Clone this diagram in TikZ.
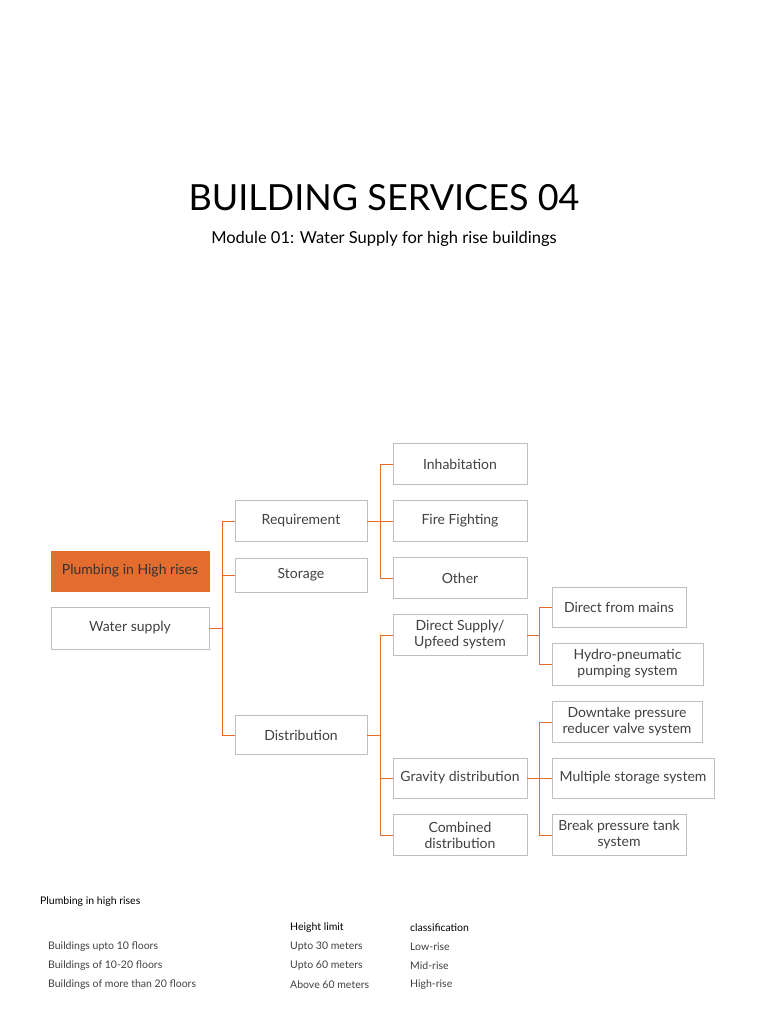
\documentclass[tikz,border=0pt]{standalone}
\usepackage{fontspec}
\setmainfont{Lato}
\usepackage{tikz}
\definecolor{burnt}{HTML}{E36C2F}
\definecolor{boxline}{HTML}{BFBFBF}
\definecolor{txt}{HTML}{404040}
\tikzstyle{block} = [rectangle, draw=boxline, thick, align=center, text=txt, font=\fontsize{14}{16}\selectfont, inner sep=0pt]
\tikzstyle{line} = [draw=burnt, thick]
\tikzstyle{tab} = [anchor=west, font=\fontsize{10.5}{12}\selectfont, inner sep=0pt]

\begin{document}
\begin{tikzpicture}[x=1pt, y=-1pt]
\useasboundingbox (0,0) rectangle (768,1024);

% titles
\node [font=\fontsize{36}{40}\selectfont] at (384, 198) (title) {BUILDING SERVICES 04};
\node [font=\fontsize{16.5}{18}\selectfont] at (384, 239) (subtitle) {Module 01: Water Supply for high rise buildings};

% level 0
\node [block, fill=burnt, draw=burnt, minimum width=158, minimum height=40, text=black!80] at (130, 571) (plumb) {Plumbing in High rises};
\node [block, minimum width=158, minimum height=42] at (130, 628) (water) {Water supply};

% level 1
\node [block, minimum width=132, minimum height=41] at (301, 521) (req) {Requirement};
\node [block, minimum width=132, minimum height=34] at (301, 575) (stor) {Storage};
\node [block, minimum width=132, minimum height=39] at (301, 735) (dist) {Distribution};

% level 2
\node [block, minimum width=134, minimum height=41] at (460, 464) (inhab) {Inhabitation};
\node [block, minimum width=134, minimum height=41] at (460, 521) (fire) {Fire Fighting};
\node [block, minimum width=134, minimum height=41] at (460, 578) (other) {Other};
\node [block, minimum width=134, minimum height=41] at (460, 635) (direct) {Direct Supply/\\Upfeed system};
\node [block, minimum width=134, minimum height=40] at (460, 778) (grav) {Gravity distribution};
\node [block, minimum width=134, minimum height=41] at (460, 835) (comb) {Combined\\distribution};

% level 3
\node [block, minimum width=134, minimum height=40] at (619, 607) (mains) {Direct from mains};
\node [block, minimum width=151, minimum height=42] at (627.5, 664) (hydro) {Hydro-pneumatic\\pumping system};
\node [block, minimum width=150, minimum height=41] at (627, 722) (down) {Downtake pressure\\reducer valve system};
\node [block, minimum width=162, minimum height=40] at (633, 778) (multi) {Multiple storage system};
\node [block, minimum width=134, minimum height=41] at (619, 835) (brk) {Break pressure tank\\system};

% connectors
\coordinate (t1) at (222, 628);
\coordinate (t2) at (380, 521);
\coordinate (t3) at (380, 735);
\coordinate (t4) at (539, 635);
\coordinate (t5) at (539, 778);
\path [line] (water.east) -- (t1);
\foreach \n in {req, stor, dist} \path [line] (t1) |- (\n.west);
\path [line] (req.east) -- (t2);
\foreach \n in {inhab, fire, other} \path [line] (t2) |- (\n.west);
\path [line] (dist.east) -- (t3);
\foreach \n in {direct, grav, comb} \path [line] (t3) |- (\n.west);
\path [line] (direct.east) -- (t4);
\foreach \n in {mains, hydro} \path [line] (t4) |- (\n.west);
\path [line] (grav.east) -- (t5);
\foreach \n in {down, multi, brk} \path [line] (t5) |- (\n.west);

% table
\node [tab] at (40, 902) (cap) {Plumbing in high rises};
\node [tab] at (290, 928) (hh) {Height limit};
\node [tab] at (410, 928) (hc) {classification};
\node [tab, text=txt] at (48, 947) (r1) {Buildings upto 10 floors};
\node [tab, text=txt] at (290, 947) (h1) {Upto 30 meters};
\node [tab, text=txt] at (410, 947) (c1) {Low-rise};
\node [tab, text=txt] at (48, 966) (r2) {Buildings of 10-20 floors};
\node [tab, text=txt] at (290, 966) (h2) {Upto 60 meters};
\node [tab, text=txt] at (410, 966) (c2) {Mid-rise};
\node [tab, text=txt] at (48, 985) (r3) {Buildings of more than 20 floors};
\node [tab, text=txt] at (290, 985) (h3) {Above 60 meters};
\node [tab, text=txt] at (410, 985) (c3) {High-rise};

\end{tikzpicture}
\end{document}
